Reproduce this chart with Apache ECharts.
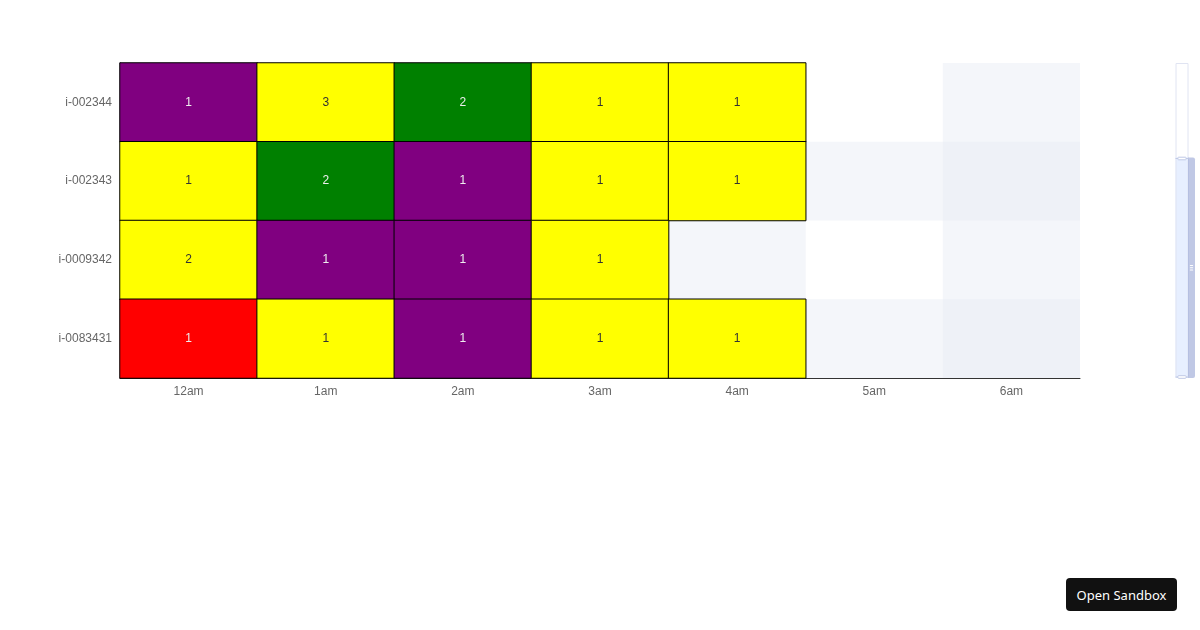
<!DOCTYPE html>
<html><head><meta charset="utf-8">
<script src="https://cdn.jsdelivr.net/npm/echarts@6/dist/echarts.min.js"></script>
<style>html,body{margin:0;padding:0;background:#fff}#c{width:1200px;height:630px}
#btn{position:absolute;left:1066px;top:578px;width:111px;height:33px;background:#111;color:#fff;border-radius:4px;font:13px 'Noto Sans',sans-serif;display:flex;align-items:center;justify-content:center}</style>
</head><body><div id="c"></div><div id="btn">Open Sandbox</div>
<script>
const hours = ['12am','1am','2am','3am','4am','5am','6am'];
const instances = ['i-0083431','i-0009342','i-002343','i-002344'];
// [hourIndex, instanceIndex, count]
const cells = [
  [0,3,1],[1,3,3],[2,3,2],[3,3,1],[4,3,1],
  [0,2,1],[1,2,2],[2,2,1],[3,2,1],[4,2,1],
  [0,1,2],[1,1,1],[2,1,1],[3,1,1],
  [0,0,1],[1,0,1],[2,0,1],[3,0,1],[4,0,1]
];
const cellColors = [
  'purple','yellow','green','yellow','yellow',
  'yellow','green','purple','yellow','yellow',
  'yellow','purple','purple','yellow',
  'red','yellow','purple','yellow','yellow'
];
const data = cells.map((c,i)=>({value:c,itemStyle:{color:cellColors[i]},
  label:{color: cellColors[i]==='yellow' ? '#333' : '#eee'}}));
const chart = echarts.init(document.getElementById('c'));
chart.setOption({
  animation:false,
  grid:{left:120,right:120,top:63,bottom:252},
  xAxis:{type:'category',data:hours,splitArea:{show:true},
    axisLine:{lineStyle:{color:'#333'}},axisLabel:{color:'#666',fontSize:12}},
  yAxis:[{type:'category',data:instances,splitArea:{show:true},
    axisLine:{lineStyle:{color:'#333'}},axisLabel:{color:'#666',fontSize:12}},
    {type:'value',min:0,max:100,show:false}],
  dataZoom:[{type:'slider',yAxisIndex:1,start:0,end:70,right:12,width:13,top:63,bottom:252,
    showDataShadow:false,filterMode:'none',labelPrecision:0,showDetail:false}],
  series:[{type:'heatmap',data:data,
    label:{show:true,fontSize:12},
    itemStyle:{borderColor:'#000',borderWidth:1}}]
});
</script></body></html>
